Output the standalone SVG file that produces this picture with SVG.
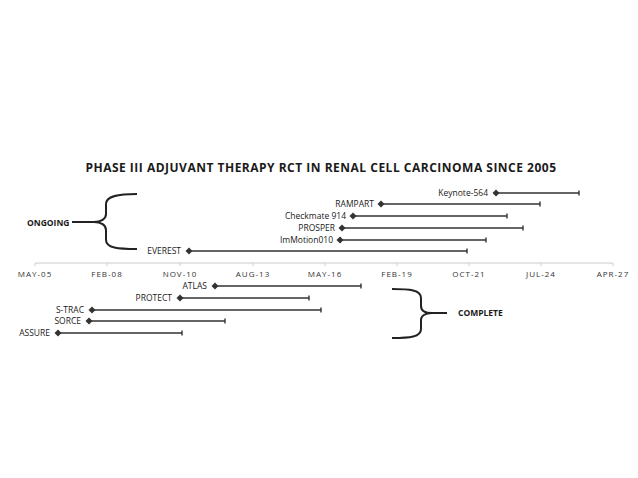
<svg xmlns="http://www.w3.org/2000/svg" width="638" height="478" viewBox="0 0 638 478">
<style>
text{font-family:"Open Sans","Liberation Sans",sans-serif;fill:#1a1a1a}
.t{font-size:8.5px;text-anchor:end}
.ax{font-size:8px;letter-spacing:1px;text-anchor:middle;fill:#333}
.b{font-size:8.5px;font-weight:bold}
.l{stroke:#333;stroke-width:1.4}
.br{fill:none;stroke:#222;stroke-width:2}
</style>
<defs><marker id="d" viewBox="-4 -4 8 8" markerWidth="8" markerHeight="8" refX="0" refY="0" markerUnits="userSpaceOnUse"><path d="M-3.5 0L0 -3.5L3.5 0L0 3.5Z" fill="#333"/></marker></defs>
<rect width="638" height="478" fill="#fff"/>
<text x="321" y="172" text-anchor="middle" style="font-size:12px;font-weight:bold;letter-spacing:0.5px">PHASE III ADJUVANT THERAPY RCT IN RENAL CELL CARCINOMA SINCE 2005</text>
<g id="axis">
<line x1="35" y1="263" x2="613" y2="263" stroke="#ccc" stroke-width="1"/>
<g stroke="#ccc"><line x1="35" y1="263" x2="35" y2="266"/><line x1="107" y1="263" x2="107" y2="266"/><line x1="180" y1="263" x2="180" y2="266"/><line x1="253" y1="263" x2="253" y2="266"/><line x1="325" y1="263" x2="325" y2="266"/><line x1="397" y1="263" x2="397" y2="266"/><line x1="469" y1="263" x2="469" y2="266"/><line x1="541" y1="263" x2="541" y2="266"/><line x1="613" y1="263" x2="613" y2="266"/></g>
<text class="ax" x="35" y="277">MAY-05</text><text class="ax" x="107" y="277">FEB-08</text><text class="ax" x="180" y="277">NOV-10</text><text class="ax" x="253" y="277">AUG-13</text><text class="ax" x="325" y="277">MAY-16</text><text class="ax" x="397" y="277">FEB-19</text><text class="ax" x="469" y="277">OCT-21</text><text class="ax" x="541" y="277">JUL-24</text><text class="ax" x="613" y="277">APR-27</text>
</g>
<g id="connectors">
<path class="l" marker-start="url(#d)" d="M496 193H579M579 190.5V195.5"/>
<path class="l" marker-start="url(#d)" d="M381 204H540M540 201.5V206.5"/>
<path class="l" marker-start="url(#d)" d="M353 216H507M507 213.5V218.5"/>
<path class="l" marker-start="url(#d)" d="M342 228H523M523 225.5V230.5"/>
<path class="l" marker-start="url(#d)" d="M340 240H486M486 237.5V242.5"/>
<path class="l" marker-start="url(#d)" d="M189 251H467M467 248.5V253.5"/>
<path class="l" marker-start="url(#d)" d="M215 286H361M361 283.5V288.5"/>
<path class="l" marker-start="url(#d)" d="M180 298H309M309 295.5V300.5"/>
<path class="l" marker-start="url(#d)" d="M92 310H321M321 307.5V312.5"/>
<path class="l" marker-start="url(#d)" d="M89 321H225M225 318.5V323.5"/>
<path class="l" marker-start="url(#d)" d="M58 333H182M182 330.5V335.5"/>
</g>
<g id="keynote"><text class="t" x="488" y="196">Keynote-564</text></g>
<g id="rampart"><text class="t" x="374" y="207">RAMPART</text></g>
<g id="checkmate"><text class="t" x="346" y="219">Checkmate 914</text></g>
<g id="prosper"><text class="t" x="335" y="231">PROSPER</text></g>
<g id="immotion"><text class="t" x="333" y="243">ImMotion010</text></g>
<g id="everest"><text class="t" x="181" y="254">EVEREST</text></g>
<g id="atlas"><text class="t" x="207" y="289">ATLAS</text></g>
<g id="protect"><text class="t" x="172" y="301">PROTECT</text></g>
<g id="strac"><text class="t" x="84" y="313">S-TRAC</text></g>
<g id="sorce"><text class="t" x="81" y="324">SORCE</text></g>
<g id="assure"><text class="t" x="50" y="336">ASSURE</text></g>
<g id="ongoing">
<path class="br" d="M137 194C118 194 106 196 106 204V214C106 219 101 222 94 222H72M94 222C101 222 106 225 106 230V240C106 248 118 249 137 249"/>
<text class="b" x="27" y="226">ONGOING</text>
</g>
<g id="complete">
<path class="br" d="M392 289C410 289 421 290 421 298V306C421 311 425 313 432 313H447M432 313C425 313 421 316 421 320V329C421 337 410 338 392 338"/>
<text class="b" x="458" y="316">COMPLETE</text>
</g>
</svg>
